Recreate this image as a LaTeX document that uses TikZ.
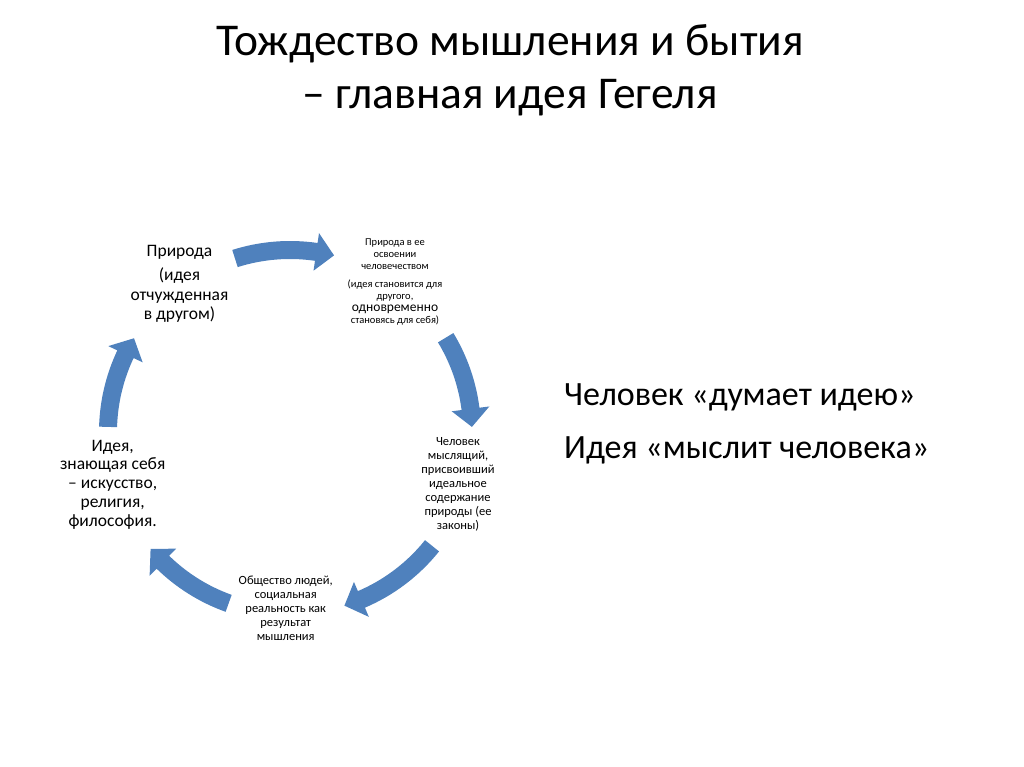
\documentclass[tikz,border=0pt]{standalone}
\usepackage{fontspec}
\setmainfont{Carlito}
\usetikzlibrary{positioning}
\definecolor{cycleblue}{RGB}{79,129,189}

\begin{document}
\begin{tikzpicture}[x = 1pt, y = 1pt,
	bigstage/.style = {align = center, inner sep = 0pt, font = \fontsize{17.5}{19.5}\selectfont},
	smallstage/.style = {align = center, inner sep = 0pt, font = \fontsize{12.5}{14}\selectfont}]
	\useasboundingbox (0, 0) rectangle (1024, 767);
	\node [align = center, inner sep = 0pt, font = \fontsize{45.5}{53}\selectfont, anchor = north] (title) at (510, 743) {Тождество мышления и бытия\\– главная идея Гегеля};
	\coordinate (hub) at (290, 335);
	\node [bigstage] (nature) at (179.5, 483) {Природа\\[5pt](идея\\отчужденная\\в другом)};
	\node [smallstage, font = \fontsize{10.5}{12}\selectfont] (mastered) at (395, 484.5) {Природа в ее\\освоении\\человечеством\\[6pt](идея становится для\\другого,\\{\fontsize{13.5}{15}\selectfont одновременно}\\становясь для себя)};
	\node [smallstage] (thinker) at (458, 282.5) {Человек\\мыслящий,\\присвоивший\\идеальное\\содержание\\природы (ее\\законы)};
	\node [smallstage] (society) at (285.7, 158.5) {Общество людей,\\социальная\\реальность как\\результат\\мышления};
	\node [bigstage, font = \fontsize{17.5}{18.7}\selectfont] (selfidea) at (112.7, 282.5) {Идея,\\знающая себя\\– искусство,\\религия,\\философия.};
	\node [align = left, inner sep = 0pt, font = \fontsize{34}{53}\selectfont, anchor = west] (claims) at (564, 343) {Человек «думает идею»\\Идея «мыслит человека»};
	% curved block arrows round the hub, clockwise
	\foreach \a/\b [evaluate = \b as \c using \b + 5.7] in {107.6/76, 31.2/1.6, -38.7/-72.6, -109.7/-140, 178.4/149}
		\fill [cycleblue] ([shift = {(\a : 191)}] hub) arc [start angle = \a, end angle = \c, radius = 191]
			-- ([shift = {(\c : 201)}] hub) -- ([shift = {(\b : 182)}] hub) -- ([shift = {(\c : 163)}] hub)
			-- ([shift = {(\c : 173)}] hub) arc [start angle = \c, end angle = \a, radius = 173] -- cycle;
\end{tikzpicture}
\end{document}
